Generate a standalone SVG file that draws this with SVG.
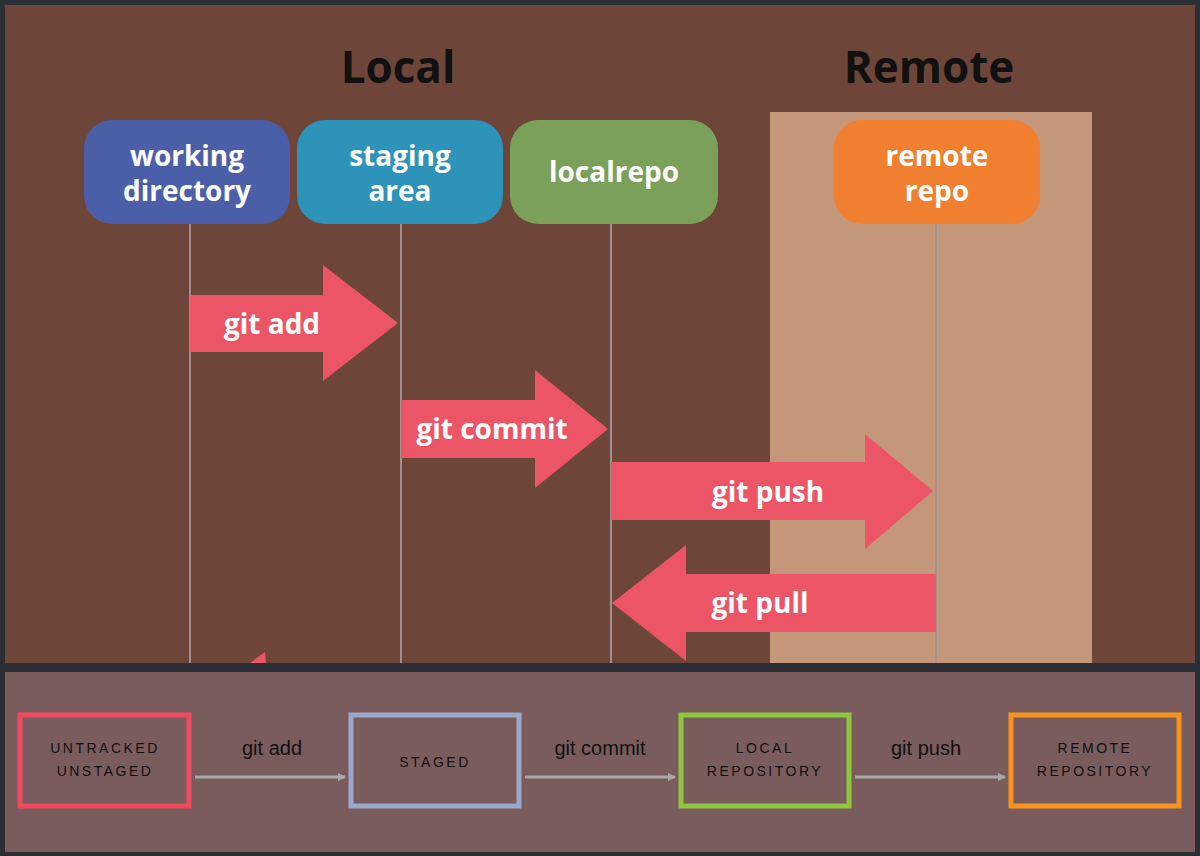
<svg xmlns="http://www.w3.org/2000/svg" width="1200" height="856" viewBox="0 0 1200 856">
<style>
.t{font-family:"Open Sans","Noto Sans",sans-serif;font-weight:bold;fill:#fff;text-anchor:middle}
.h{font-family:"Open Sans","Noto Sans",sans-serif;font-weight:bold;fill:#111;text-anchor:middle;font-size:44px}
.life{stroke:#a09090;stroke-width:2}
.arr{fill:#ec5566}
.b{fill:none;stroke-width:5}
.bl{font-family:"Liberation Sans",sans-serif;font-size:14px;letter-spacing:2.5px;fill:#111;text-anchor:middle}
.gl{font-family:"Liberation Sans Narrow","Liberation Sans",sans-serif;font-size:20px;fill:#111;text-anchor:middle}
.ln{stroke:#a8a8a8;stroke-width:3}
</style>
<defs><marker id="m" markerWidth="8" markerHeight="8" refX="7" refY="4" orient="auto" markerUnits="userSpaceOnUse" viewBox="0 0 8 8"><path d="M0,0 L8,4 L0,8z" fill="#a8a8a8"/></marker></defs>
<rect width="1200" height="856" fill="#2c2e35"/>
<rect x="5" y="5" width="1190" height="658" fill="#6e4539"/>
<rect x="770" y="112" width="322" height="551" fill="#c4977a"/>
<rect x="5" y="672" width="1190" height="180" fill="#7a5c5c"/>
<text class="h" x="398" y="83">Local</text>
<text class="h" x="929" y="83">Remote</text>
<g id="connectors">
<line class="life" x1="190" y1="224" x2="190" y2="663"/>
<line class="life" x1="401" y1="224" x2="401" y2="663"/>
<line class="life" x1="611" y1="224" x2="611" y2="663"/>
<line class="life" x1="936" y1="224" x2="936" y2="663"/>
<path class="arr" d="M190,295 H323 V265 L398,323 L323,381 V352 H190z"/>
<path class="arr" d="M401,400 H535 V370 L608,429 L535,488 V458 H401z"/>
<path class="arr" d="M611,462 H865 V434 L933,491 L865,549 V520 H611z"/>
<path class="arr" d="M936,574 H686 V545 L612,603 L686,661 V632 H936z"/>
<path class="arr" d="M250,663 L265,652 L266,663z"/>
<line class="ln" x1="195" y1="777" x2="345" y2="777" marker-end="url(#m)"/>
<line class="ln" x1="525" y1="777" x2="675" y2="777" marker-end="url(#m)"/>
<line class="ln" x1="855" y1="777" x2="1005" y2="777" marker-end="url(#m)"/>
</g>
<text class="t" font-size="28" x="272" y="334">git add</text>
<text class="t" font-size="28" x="492" y="439">git commit</text>
<text class="t" font-size="28" x="768" y="502">git push</text>
<text class="t" font-size="28" x="760" y="613">git pull</text>
<g id="wd"><rect x="84" y="120" width="206" height="104" rx="28" fill="#4a5fa8"/><text class="t" font-size="28" x="187" y="166">working</text><text class="t" font-size="28" x="187" y="201">directory</text></g>
<g id="sa"><rect x="297" y="120" width="206" height="104" rx="28" fill="#2e93b8"/><text class="t" font-size="28" x="400" y="166">staging</text><text class="t" font-size="28" x="400" y="201">area</text></g>
<g id="lr"><rect x="510" y="120" width="208" height="104" rx="28" fill="#7aa05a"/><text class="t" font-size="28" x="614" y="182">localrepo</text></g>
<g id="rr"><rect x="834" y="120" width="206" height="104" rx="28" fill="#f08030"/><text class="t" font-size="28" x="937" y="166">remote</text><text class="t" font-size="28" x="937" y="201">repo</text></g>
<g id="b1"><rect class="b" x="20" y="715" width="169" height="91" stroke="#f04a5e"/><text class="bl" x="105" y="753">UNTRACKED</text><text class="bl" x="105" y="776">UNSTAGED</text></g>
<g id="b2"><rect class="b" x="351" y="715" width="168" height="91" stroke="#9aa8cc"/><text class="bl" x="435" y="767">STAGED</text></g>
<g id="b3"><rect class="b" x="681" y="715" width="168" height="91" stroke="#8dc63f"/><text class="bl" x="765" y="753">LOCAL</text><text class="bl" x="765" y="776">REPOSITORY</text></g>
<g id="b4"><rect class="b" x="1011" y="715" width="168" height="91" stroke="#f7941d"/><text class="bl" x="1095" y="753">REMOTE</text><text class="bl" x="1095" y="776">REPOSITORY</text></g>
<text class="gl" x="272" y="755">git add</text>
<text class="gl" x="600" y="755">git commit</text>
<text class="gl" x="926" y="755">git push</text>
</svg>
